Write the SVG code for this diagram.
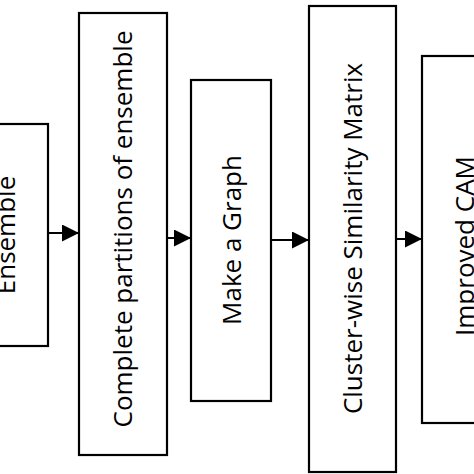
<svg xmlns="http://www.w3.org/2000/svg" width="474" height="474" viewBox="0 0 474 474">
<defs>
<marker id="ah" markerUnits="userSpaceOnUse" markerWidth="18" markerHeight="18" refX="17" refY="8.5" orient="auto">
<path d="M0,0 L17,8.5 L0,17 Z" fill="#000"/>
</marker>
<style>
.box{fill:#fff;stroke:#000;stroke-width:2.2}
.lbl{font-family:"Open Sans","Noto Sans",sans-serif;font-size:26px;fill:#000;text-anchor:middle}
.conn{stroke:#000;stroke-width:2;fill:none}
</style>
</defs>
<rect width="474" height="474" fill="#fff"/>
<g id="n1">
<rect class="box" x="-40" y="124" width="88" height="222"/>
<text class="lbl" transform="translate(15,235) rotate(-90)">Ensemble</text>
</g>
<g id="n2">
<rect class="box" x="79" y="13" width="88" height="442"/>
<text class="lbl" transform="translate(132,229) rotate(-90)">Complete partitions of ensemble</text>
</g>
<g id="n3">
<rect class="box" x="191" y="80" width="80" height="321"/>
<text class="lbl" transform="translate(241,240) rotate(-90)">Make a Graph</text>
</g>
<g id="n4">
<rect class="box" x="309" y="6" width="87" height="466"/>
<text class="lbl" transform="translate(362,238.5) rotate(-90)">Cluster-wise Similarity Matrix</text>
</g>
<g id="n5">
<rect class="box" x="422" y="56" width="98" height="367"/>
<text class="lbl" transform="translate(474,246) rotate(-90)">Improved CAM</text>
</g>
<g id="connectors">
<line class="conn" x1="48" y1="233" x2="79" y2="233" marker-end="url(#ah)"/>
<line class="conn" x1="167" y1="238" x2="191" y2="238" marker-end="url(#ah)"/>
<line class="conn" x1="271" y1="240" x2="309" y2="240" marker-end="url(#ah)"/>
<line class="conn" x1="396" y1="239" x2="422" y2="239" marker-end="url(#ah)"/>
</g>
</svg>
